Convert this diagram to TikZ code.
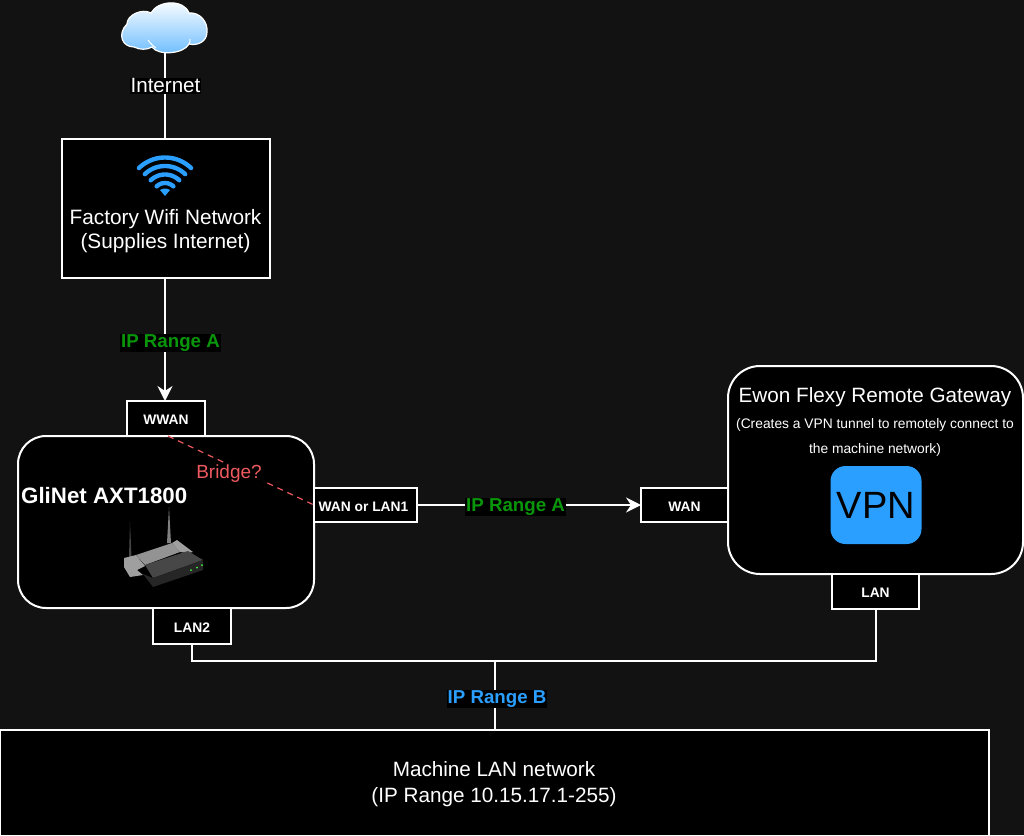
\documentclass[tikz,border=0pt]{standalone}
\usepackage{fontspec}
\setmainfont{Liberation Sans}
\usetikzlibrary{arrows.meta}
\definecolor{bgc}{HTML}{121212}
\definecolor{wifiblue}{HTML}{2B9FFF}
\definecolor{rangeg}{HTML}{0A960A}
\definecolor{bridgec}{HTML}{EE5A5F}
\newcommand\pl[1]{\raisebox{-1.5pt}[\height][\depth]{#1}}
\tikzset{
  x=1pt,y=-1pt,
  boxs/.style={draw=white,fill=black,line width=2pt,inner sep=0pt,outer sep=0pt,anchor=north west},
  port/.style={boxs,font=\fontsize{13.8}{15}\selectfont\bfseries,text=white},
  conn/.style={draw=white,line width=2pt},
  arr/.style={conn,-{Stealth[length=15pt,width=15pt,inset=5pt]}},
  rangel/.style={fill=black,inner sep=1pt,font=\fontsize{18.7}{20}\selectfont\bfseries},
}
\begin{document}
\begin{tikzpicture}
\useasboundingbox (0,0) rectangle (1024,835);
\fill[bgc] (0,0) rectangle (1024,835);
% boxes
\node[boxs,minimum width=208pt,minimum height=139pt] (factory) at (62,139) {};
\node[port,minimum width=78pt,minimum height=35pt] (wwan) at (127,401) {\pl{WWAN}};
\node[boxs,rounded corners=28pt,minimum width=296pt,minimum height=172pt] (gl) at (18,436) {};
\node[port,minimum width=103pt,minimum height=34pt] (wanlan) at (314,488) {\pl{WAN or LAN1\hspace*{4pt}}};
\node[port,minimum width=87pt,minimum height=34pt] (wan) at (641,488) {\pl{WAN}};
\node[boxs,rounded corners=32pt,minimum width=295pt,minimum height=208pt] (ewon) at (728,366) {};
\node[port,minimum width=87pt,minimum height=35pt] (lan) at (832,574) {\pl{LAN}};
\node[port,minimum width=78pt,minimum height=36pt] (lan2) at (153,608) {\pl{LAN2}};
\node[boxs,minimum width=989pt,minimum height=106pt] (machine) at (0,730) {};
% cloud
\coordinate (cloudb) at (165,52);
\shade[top color=white,bottom color=white!30!wifiblue,draw=white,line width=1.2pt]
 (134,47) .. controls (122,47) and (117,34) .. (127,24)
 .. controls (127,15) and (142,8) .. (151,13)
 .. controls (158,0) and (184,-1) .. (189,13)
 .. controls (200,12) and (208,22) .. (207,32)
 .. controls (207,42) and (197,46) .. (189,44)
 .. controls (184,54) and (158,56) .. (152,47)
 .. controls (147,50) and (140,50) .. (134,47) -- cycle;
\draw[white,line width=1pt] (148,40) .. controls (151,44) and (153,46) .. (156,48);
\draw[white,line width=1pt] (189,44) .. controls (190,43) and (190,41) .. (190,39);
% connectors
\coordinate (lanbus) at (495,661);
\draw[conn] (cloudb) -- (factory.north -| cloudb);
\draw[arr] (factory.south -| cloudb) -- (wwan.north -| cloudb);
\draw[arr] (wanlan.east) -- (wan.west);
\draw[conn] (lan2.south) -- (lan2.south |- lanbus) -- (lan.south |- lanbus) -- (lan.south);
\draw[conn] (lanbus) -- (machine.north -| lanbus);
\draw[bridgec,line width=1.2pt,dash pattern=on 6pt off 5pt] (168,436) -- (wanlan.west);
% labels
\node[fill=black,inner sep=1pt,text=white,font=\fontsize{20.6}{22}\selectfont] (inet) at (165.5,86) {Internet};
\node[rangel,text=rangeg] (ra1) at (170.5,343) {IP Range A};
\node[rangel,text=rangeg] (ra2) at (515.5,507) {IP Range A};
\node[rangel,text=wifiblue] (rb) at (497,699) {IP Range B};
\node[fill=black,inner sep=1pt,text=bridgec,font=\fontsize{19}{20}\selectfont] (br) at (229,474) {Bridge?};
\node[text=white,align=center,font=\fontsize{20.8}{24.5}\selectfont] (ft) at (165.5,231) {Factory Wifi Network\\(Supplies Internet)};
\node[text=white,anchor=west,inner sep=0pt,font=\fontsize{22.3}{24}\selectfont\bfseries] (glt) at (21,496) {GliNet AXT1800};
\node[text=white,font=\fontsize{20.7}{24}\selectfont] (et) at (875,397) {Ewon Flexy Remote Gateway};
\node[text=white,align=center,font=\fontsize{13.8}{25.5}\selectfont] (es) at (875,437.5) {(Creates a VPN tunnel to remotely connect to\\the machine network)};
\node[text=white,align=center,font=\fontsize{20.7}{25.5}\selectfont] (mt) at (494,784) {Machine LAN network\\(IP Range 10.15.17.1-255)};
% VPN icon
\node[fill=wifiblue,rounded corners=15pt,minimum width=91pt,minimum height=78pt,inner sep=0pt,text=black,font=\fontsize{38}{42}\selectfont] (vpn) at (876,505) {VPN};
% wifi icon
\foreach \r in {37.5,29,20.5,12}{
 \draw[wifiblue,line width=4.4pt,line cap=round,line join=round] plot[domain=46:134,samples=25] ({165+\r*cos(\x)},{195-\r*sin(\x)});
}
\fill[wifiblue] (165,196) -- (160,190) .. controls (163,188) and (167,188) .. (170,190) -- cycle;
% router
\fill[black!45!gray] (129,557) -- (130,522) -- (131.5,557) -- cycle;
\fill[gray] (167,543) -- (169,507) -- (171,543) -- cycle;
\fill[gray!75!white] (124,558) -- (136,555) -- (145,566) -- (137,570) -- (143,575) -- (130,577) -- (124,567) -- cycle;
\fill[gray!85!white] (136,555) -- (172,543) -- (180,552) -- (145,565) -- cycle;
\fill[gray!75!white] (172,543) -- (177,540) -- (193,552) -- (188,553) -- (180,552) -- cycle;
\fill[black!72] (145,565) -- (188,551) -- (203,560) -- (153,578) -- cycle;
\fill[black!85] (153,578) -- (203,560) -- (203,570) -- (153,587) -- (143,574) -- cycle;
\fill[green!75!white] (191,570) circle (1pt) (197,567.5) circle (1pt) (202,565) circle (1pt);
\end{tikzpicture}
\end{document}
